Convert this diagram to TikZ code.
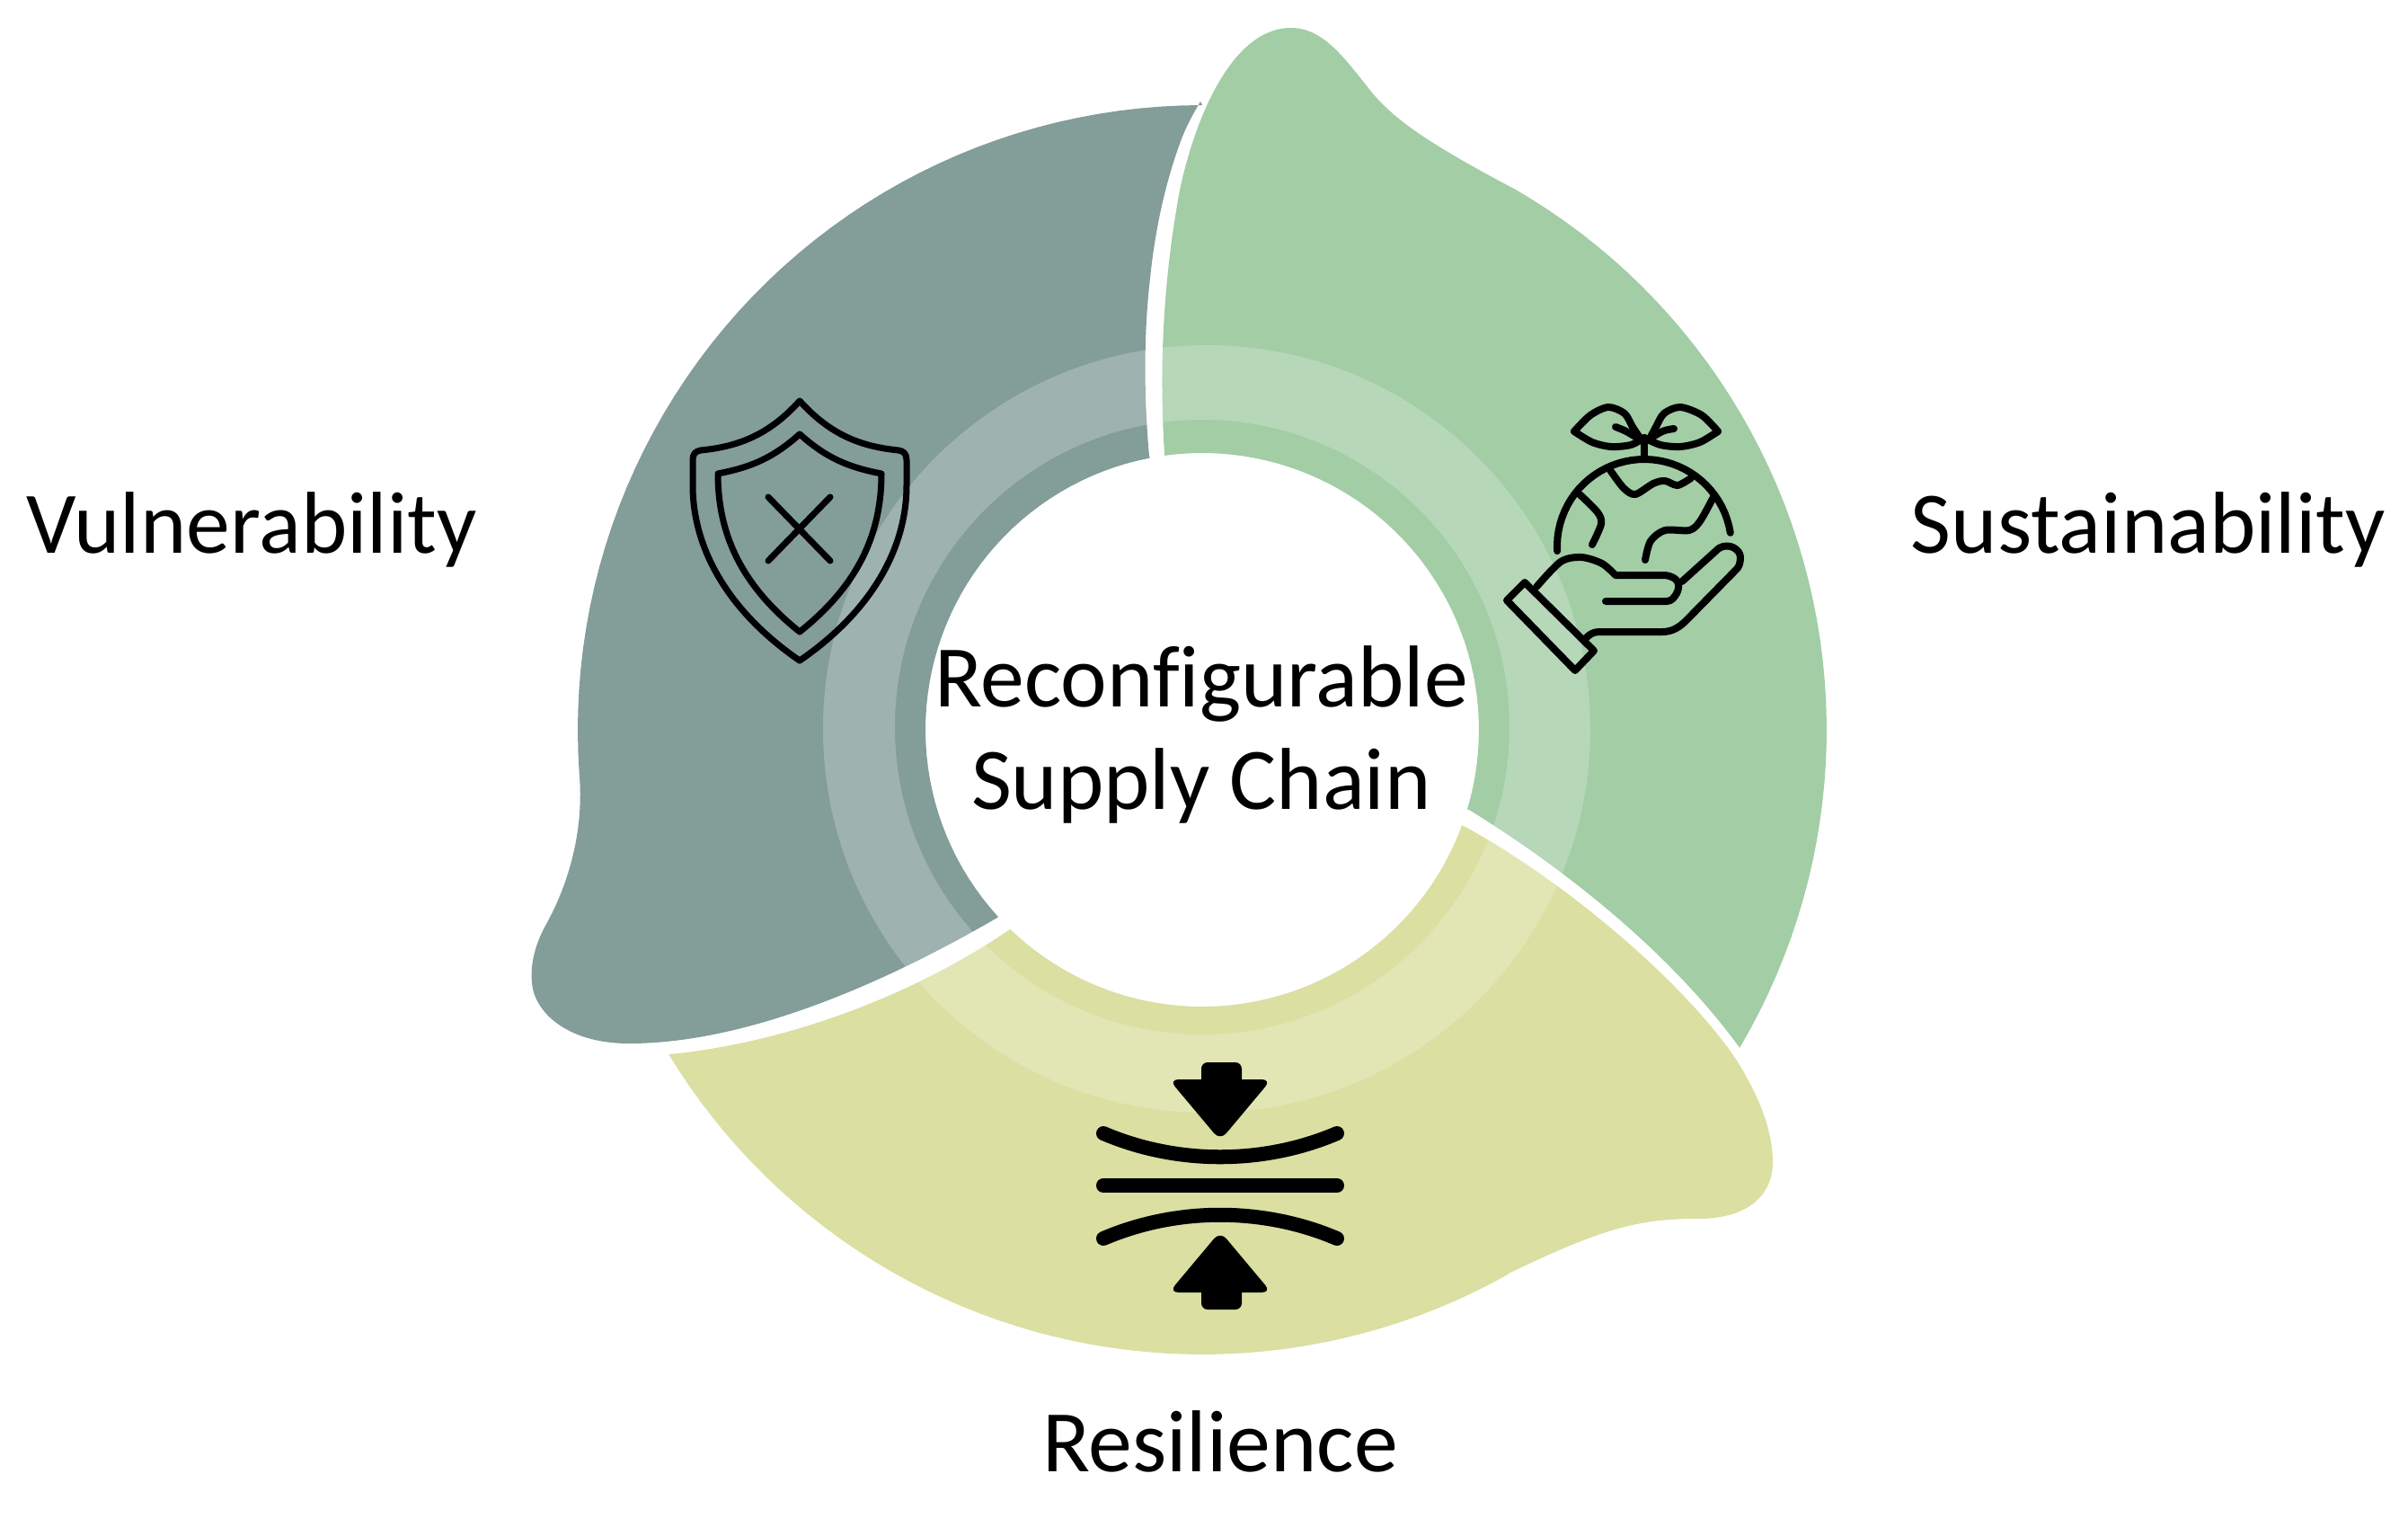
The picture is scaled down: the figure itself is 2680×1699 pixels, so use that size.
\documentclass[tikz,border=0pt]{standalone}
\usepackage{fontspec}
\setmainfont{Carlito}[Ligatures=NoCommon]
\definecolor{r131g157b153}{RGB}{131,157,153}
\definecolor{r162g205b165}{RGB}{162,205,165}
\definecolor{r219g223b161}{RGB}{219,223,161}
\tikzset{
  iconline/.style={draw=black,line width=0.07cm,line join=round,line cap=round},
  handline/.style={draw=black,line width=0.08cm,line join=round,line cap=round},
  bigline/.style={draw=black,line width=0.16cm,line cap=round},
  pillar/.style={font=\fontsize{27.8}{33}\selectfont,anchor=base,text=black},
}
\begin{document}
\begin{tikzpicture}[x=0.01cm,y=-0.01cm]
  \useasboundingbox (0,0) rectangle (2680,1699);

  % Filling blob Vulnerability
  \fill[r131g157b153] (1279,507) .. controls (1272,430) and (1274,360) .. (1280,310)
    .. controls (1284,270) and (1293,215) .. (1313,160)
    .. controls (1319,143) and (1327,128) .. (1336,113)
    -- plot[domain=90:184,samples=50] ({1338+695*cos(\x)},{812-695*sin(\x)})
    .. controls (650,920) and (635,980) .. (607,1030)
    .. controls (596,1050) and (590,1072) .. (592,1093)
    .. controls (594,1125) and (630,1161) .. (700,1161)
    .. controls (840,1161) and (1000,1085) .. (1110,1021)
    -- plot[domain=222.5:100.9,samples=50] ({1338+308*cos(\x)},{812-308*sin(\x)}) -- cycle;

  % Filling blob Sustainability
  \fill[r162g205b165] (1296,505) .. controls (1292,440) and (1290,340) .. (1312,217)
    .. controls (1325,150) and (1365,31) .. (1437,31)
    .. controls (1475,31) and (1500,70) .. (1527,103)
    .. controls (1554,136) and (1600,165) .. (1685,210)
    -- plot[domain=60:-30.6,samples=50] ({1338+695*cos(\x)},{812-695*sin(\x)})
    .. controls (1865,1068) and (1755,975) .. (1635,901)
    -- plot[domain=-16.7:97.8,samples=50] ({1338+308*cos(\x)},{812-308*sin(\x)}) -- cycle;

  % Filling blob Resilience
  \fill[r219g223b161] (1629,919) .. controls (1750,985) and (1880,1100) .. (1933,1180)
    .. controls (1955,1215) and (1973,1255) .. (1973,1293)
    .. controls (1973,1330) and (1945,1356) .. (1890,1356)
    .. controls (1830,1356) and (1790,1363) .. (1679,1417)
    -- plot[domain=-60.6:-148.7,samples=50] ({1338+695*cos(\x)},{812-695*sin(\x)})
    .. controls (880,1160) and (1020,1105) .. (1124,1034)
    -- plot[domain=226:339.8,samples=50] ({1338+308*cos(\x)},{812-308*sin(\x)}) -- cycle;

  % Lighter ring over the blobs
  \fill[white,opacity=0.22,even odd rule] (1343,811) circle (427) (1338,809) circle (342);

  % Drawing shield
  \draw[iconline] (890,446) .. controls (925,485) and (960,497) .. (1000,501) .. controls (1006,502) and (1009,505) .. (1009,512) -- (1009,540) .. controls (1009,610) and (970,680) .. (890,735) .. controls (810,680) and (771,610) .. (771,540) -- (771,512) .. controls (771,505) and (774,502) .. (780,501) .. controls (820,497) and (855,485) .. (890,446) -- cycle;
  \draw[iconline] (890,483) .. controls (920,510) and (945,520) .. (981,527) .. controls (981,600) and (950,655) .. (890,703) .. controls (830,655) and (799,600) .. (799,527) .. controls (835,520) and (860,510) .. (890,483) -- cycle;
  \draw[iconline] (855,553) -- (924,624);
  \draw[iconline] (924,553) -- (855,624);

  % Drawing leaves and globe
  \draw[handline] plot[smooth] coordinates {(1752,480) (1770,462) (1790,453) (1808,460) (1817,475) (1827,490)};
  \draw[handline] plot[smooth] coordinates {(1752,480) (1772,492) (1793,497) (1815,495) (1830,487)};
  \draw[handline] plot[smooth] coordinates {(1798,475) (1810,480) (1830,492)};
  \draw[handline] plot[smooth] coordinates {(1912,480) (1894,462) (1870,453) (1852,460) (1843,475) (1835,490)};
  \draw[handline] plot[smooth] coordinates {(1912,480) (1892,492) (1870,497) (1848,495) (1830,487)};
  \draw[handline] plot[smooth] coordinates {(1863,477) (1850,480) (1830,492)};
  \draw[handline] (1830,487) -- (1830,510);
  \draw[handline] plot[domain=183:9,samples=40] ({1830+97*cos(\x)},{608-97*sin(\x)});
  \draw[handline] plot[smooth] coordinates {(1792,523) (1807,543) (1820,550) (1840,538) (1853,535) (1867,540) (1882,532)};
  \draw[handline] plot[smooth] coordinates {(1758,550) (1778,570) (1782,583) (1772,606)};
  \draw[handline] plot[smooth] coordinates {(1907,553) (1892,580) (1880,590) (1853,590) (1837,602) (1831,623)};

  % Drawing hand
  \draw[handline] (1677,668) -- (1697,648) -- (1774,724) -- (1753,746) -- cycle;
  \draw[handline] plot[smooth] coordinates {(1710,653) (1737,625) (1760,620) (1783,627) (1798,640)};
  \draw[handline] (1798,640) -- (1853,640) .. controls (1868,642) and (1870,650) .. (1867,658) .. controls (1864,665) and (1860,669) .. (1855,669) -- (1787,669);
  \draw[handline] (1872,647) -- (1913,610) .. controls (1925,603) and (1937,612) .. (1937,620) .. controls (1937,627) and (1935,631) .. (1933,633) -- (1877,690) .. controls (1870,697) and (1862,703) .. (1850,703) -- (1780,703) .. controls (1773,703) and (1769,706) .. (1765,710);

  % Drawing arrows and bent lines
  \fill[black,rounded corners=3pt] (1415,1201) -- (1358,1269) -- (1301,1201) -- cycle;
  \fill[black,rounded corners=2pt] (1337,1182) rectangle (1382,1215);
  \fill[black,rounded corners=3pt] (1415,1438) -- (1358,1370) -- (1301,1438) -- cycle;
  \fill[black,rounded corners=2pt] (1337,1424) rectangle (1382,1457);
  \draw[bigline] (1228,1261) .. controls (1310,1296) and (1406,1296) .. (1488,1261);
  \draw[bigline] (1228,1319) -- (1488,1319);
  \draw[bigline] (1228,1378) .. controls (1310,1343) and (1406,1343) .. (1488,1378);

  % Labels
  \node[pillar] (vulnerability) at (280,615) {Vulnerability};
  \node[pillar] (sustainability) at (2391,615) {Sustainability};
  \node[pillar] (resilience) at (1358,1637) {Resilience};
  \node[pillar] (topline) at (1337,786) {Reconfigurable};
  \node[pillar] (bottomline) at (1337,900) {Supply Chain};
\end{tikzpicture}
\end{document}
